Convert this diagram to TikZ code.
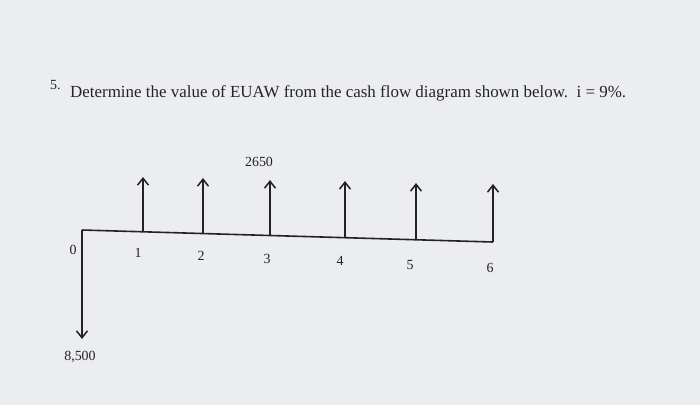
\documentclass[tikz,border=0pt]{standalone}
\usepackage{fontspec}
\setmainfont{Liberation Serif}
\usetikzlibrary{arrows.meta}
\definecolor{paper}{RGB}{236,237,241}
\definecolor{ink}{RGB}{35,35,38}
\begin{document}
\begin{tikzpicture}[x=1bp,y=-1bp,
  flow/.style={draw=ink,line width=1.5bp,-{Straight Barb[length=7bp,width=11bp,line width=1.5bp]}},
  axisline/.style={draw=ink,line width=1.6bp},
  lbl/.style={text=ink,font=\fontsize{14}{16}\selectfont,inner sep=0pt},
  title/.style={text=ink,font=\fontsize{17}{20}\selectfont,inner sep=0pt,anchor=west}]
\fill[paper] (0,0) rectangle (700,405);
\useasboundingbox (0,0) rectangle (700,405);
% title
\node[title,font=\fontsize{14}{16}\selectfont] (num) at (50,85) {5.};
\node[title] (ttl) at (70,93) {Determine the value of EUAW from the cash flow diagram shown below.\ \ i = 9\%.};
% axis
\coordinate (t0) at (82,230);
\coordinate (t6) at (493,242);
\draw[axisline] (t0) -- (t6);
% receipts
\foreach \i/\x/\yb/\yt in {1/143/232/177,2/203/234/178,3/270/236/180,4/345/238/181,5/416/240/183,6/493/242/184}{
  \coordinate (b\i) at (\x,\yb);
  \coordinate (a\i) at (\x,\yt);
  \draw[flow] (b\i) -- (a\i);
}
\node[lbl] (amt) at (259,162) {2650};
% period labels
\node[lbl] (p0) at (73,250) {0};
\node[lbl] (p1) at (138,253) {1};
\node[lbl] (p2) at (201,256) {2};
\node[lbl] (p3) at (267,259) {3};
\node[lbl] (p4) at (340,261) {4};
\node[lbl] (p5) at (410,265) {5};
\node[lbl] (p6) at (490,268) {6};
% initial cost
\coordinate (d0) at (82,339);
\draw[flow] (t0) -- (d0);
\node[lbl] (cost) at (80,357) {8,500};
\end{tikzpicture}
\end{document}
